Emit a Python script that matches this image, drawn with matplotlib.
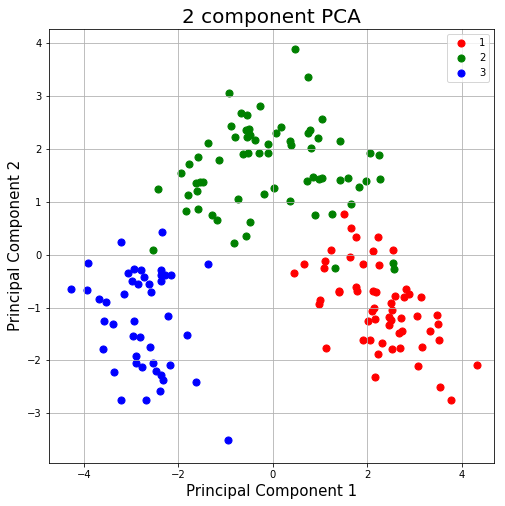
import matplotlib
matplotlib.use("Agg")
import matplotlib.pyplot as plt

# class 1 (red)
pc1_t1 = [1.51, 1.65, 1.76, 2.22, 1.24, 2.11, 2.54, 1.63, 0.66, 1.10,
          1.08, 0.44, 1.90, 2.25, 1.39, 1.41, 1.76, 1.78, 2.12, 2.19,
          1.00, 0.98, 2.59, 2.51, 2.09, 2.15, 2.53, 2.02, 2.17, 2.45,
          2.51, 2.47, 1.90, 2.06, 2.31, 1.13, 2.23, 2.53, 2.83, 2.88,
          2.77, 3.13, 2.72, 3.06, 3.47, 3.49, 3.32, 2.74, 2.68, 3.51,
          3.15, 2.70, 3.07, 4.32, 2.17, 3.55, 3.77]
pc2_t1 = [0.78, 0.51, 0.33, 0.34, 0.10, 0.08, 0.10, -0.05, -0.17, -0.12,
          -0.24, -0.34, -0.17, -0.19, -0.68, -0.71, -0.61, -0.68, -0.68, -0.71,
          -0.86, -0.94, -0.78, -0.92, -1.06, -1.01, -1.05, -1.25, -1.22, -1.17,
          -1.24, -1.32, -1.62, -1.61, -1.66, -1.77, -1.87, -1.78, -0.65, -0.74,
          -0.80, -0.80, -1.19, -1.15, -1.13, -1.31, -1.44, -1.44, -1.48, -1.61,
          -1.74, -1.76, -2.11, -2.09, -2.32, -2.50, -2.74]

# class 2 (green)
pc1_t2 = [-2.53, -1.84, -1.58, -2.43, -1.79, -1.60, -1.94, -1.77, -1.58, -1.37,
          -1.14, -0.63, -0.52, -0.29, -0.11, -1.62, -1.55, -1.48, -0.74, -0.18,
          -1.30, -1.19, -0.48, -0.56, -0.82, -0.94, -0.27, -0.67, -0.55, -0.89,
          -0.57, -0.51, -0.81, -0.54, -0.48, -0.38, -0.11, 0.47, 0.75, 1.03,
          0.17, 0.06, 0.78, 0.75, 0.95, 0.37, 0.39, 1.42, 0.80, 2.06,
          2.25, 0.73, 0.84, 0.97, 1.04, 1.42, 1.59, 1.83, 1.98, 2.26,
          0.02, 0.37, 1.65, 0.90, 1.26, 1.32, 2.55, 2.57]
pc2_t2 = [0.09, 0.82, 0.87, 1.24, 1.14, 1.20, 1.54, 1.71, 1.85, 2.11,
          1.80, 1.91, 1.92, 1.92, 1.92, 1.35, 1.37, 1.37, 1.05, 1.16,
          0.75, 0.65, 0.62, 0.35, 0.23, 3.07, 2.82, 2.69, 2.64, 2.43,
          2.36, 2.38, 2.23, 2.23, 2.26, 2.17, 2.09, 3.89, 3.37, 2.57,
          2.41, 2.31, 2.37, 2.31, 2.22, 2.15, 2.08, 2.15, 2.02, 1.92,
          1.88, 1.39, 1.48, 1.43, 1.45, 1.41, 1.45, 1.28, 1.39, 1.43,
          1.27, 1.02, 0.96, 0.76, 0.78, -0.25, -0.16, -0.27]

# class 3 (blue)
pc1_t3 = [-2.36, -3.22, -3.91, -4.28, -3.93, -3.68, -3.53, -3.15, -3.08, -2.94,
          -2.79, -2.98, -2.85, -2.74, -2.62, -2.59, -2.38, -2.38, -2.28, -2.15,
          -2.38, -1.37, -3.57, -3.38, -2.94, -2.23, -2.96, -2.81, -1.81, -3.60,
          -2.60, -2.89, -2.89, -2.77, -2.55, -3.36, -2.47, -2.38, -2.32, -2.19,
          -1.62, -2.39, -3.22, -2.68, -0.96]
pc2_t3 = [0.44, 0.24, -0.16, -0.64, -0.66, -0.84, -0.89, -0.74, -0.35, -0.27,
          -0.29, -0.49, -0.55, -0.42, -0.56, -0.70, -0.29, -0.39, -0.38, -0.38,
          -0.49, -0.18, -1.26, -1.30, -1.26, -1.16, -1.54, -1.56, -1.52, -1.78,
          -1.74, -1.92, -2.04, -2.13, -2.04, -2.21, -2.19, -2.28, -2.36, -2.08,
          -2.40, -2.58, -2.75, -2.75, -3.50]

targets = ["1", "2", "3"]
colors = ["r", "g", "b"]

fig = plt.figure(figsize=(505 / 72, 506 / 72), dpi=72)
ax = fig.add_axes([0.0964, 0.085, 0.8824, 0.8583])

data = [(pc1_t1, pc2_t1), (pc1_t2, pc2_t2), (pc1_t3, pc2_t3)]
for target, color, (xs, ys) in zip(targets, colors, data):
    ax.scatter(xs, ys, c=color, s=50, label=target)

ax.set_xlim(-4.75, 4.69)
ax.set_ylim(-3.94, 4.28)
ax.set_xlabel("Principal Component 1", fontsize=15)
ax.set_ylabel("Principal Component 2", fontsize=15)
ax.set_title("2 component PCA", fontsize=20)
ax.legend(loc="upper right")
ax.grid()

fig.savefig("out.png", dpi=72)
